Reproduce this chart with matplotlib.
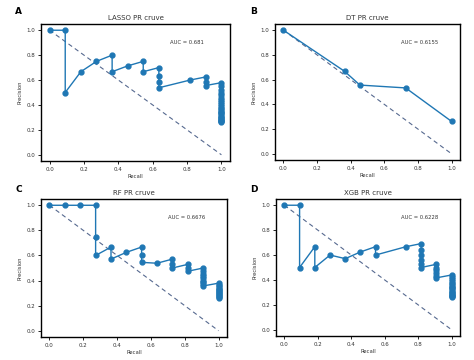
import matplotlib
matplotlib.use("Agg")
import matplotlib.pyplot as plt

# LASSO
lasso_recall = [0.0, 0.091, 0.091, 0.182, 0.273, 0.364, 0.364, 0.455, 0.545, 0.545,
                0.636, 0.636, 0.636, 0.636, 0.818, 0.909, 0.909, 0.909,
                1.0, 1.0, 1.0, 1.0, 1.0, 1.0, 1.0, 1.0, 1.0, 1.0, 1.0, 1.0, 1.0, 1.0,
                1.0, 1.0, 1.0, 1.0, 1.0, 1.0, 1.0, 1.0, 1.0, 1.0]
lasso_precision = [1.0, 1.0, 0.5, 0.667, 0.75, 0.8, 0.667, 0.714, 0.75, 0.667,
                   0.7, 0.636, 0.583, 0.538, 0.6, 0.625, 0.588, 0.556,
                   0.579, 0.55, 0.524, 0.5, 0.478, 0.458, 0.44, 0.423, 0.407, 0.393,
                   0.379, 0.367, 0.355, 0.344, 0.333, 0.324, 0.314, 0.306, 0.297,
                   0.289, 0.282, 0.275, 0.268, 0.262]

# DT
dt_recall = [0.0, 0.364, 0.455, 0.727, 1.0]
dt_precision = [1.0, 0.667, 0.556, 0.533, 0.262]

# RF
rf_recall = [0.0, 0.091, 0.182, 0.273, 0.273, 0.273, 0.364, 0.364, 0.455, 0.545,
             0.545, 0.545, 0.636, 0.727, 0.727, 0.727, 0.818, 0.818, 0.818,
             0.909, 0.909, 0.909, 0.909, 0.909, 0.909, 0.909, 0.909, 0.909,
             1.0, 1.0, 1.0, 1.0, 1.0, 1.0, 1.0, 1.0, 1.0, 1.0, 1.0, 1.0, 1.0, 1.0]
rf_precision = [1.0, 1.0, 1.0, 1.0, 0.75, 0.6, 0.667, 0.571, 0.625, 0.667,
                0.6, 0.545, 0.538, 0.571, 0.533, 0.5, 0.529, 0.5, 0.474,
                0.5, 0.476, 0.455, 0.435, 0.417, 0.4, 0.385, 0.37, 0.357,
                0.379, 0.367, 0.355, 0.344, 0.333, 0.324, 0.314, 0.306, 0.297,
                0.289, 0.282, 0.275, 0.268, 0.262]

# XGB
xgb_recall = [0.0, 0.091, 0.091, 0.182, 0.182, 0.273, 0.364, 0.455, 0.545, 0.545,
              0.727, 0.818, 0.818, 0.818, 0.818, 0.818, 0.818,
              0.909, 0.909, 0.909, 0.909, 0.909, 0.909,
              1.0, 1.0, 1.0, 1.0, 1.0, 1.0, 1.0, 1.0, 1.0, 1.0, 1.0, 1.0,
              1.0, 1.0, 1.0, 1.0, 1.0, 1.0]
xgb_precision = [1.0, 1.0, 0.5, 0.667, 0.5, 0.6, 0.571, 0.625, 0.667, 0.6,
                 0.667, 0.692, 0.643, 0.6, 0.563, 0.529, 0.5,
                 0.526, 0.5, 0.476, 0.455, 0.435, 0.417,
                 0.44, 0.423, 0.407, 0.393, 0.379, 0.367, 0.355, 0.344, 0.333,
                 0.324, 0.314, 0.306, 0.297, 0.289, 0.282, 0.275, 0.268, 0.262]

titles = ["LASSO PR cruve", "DT PR cruve", "RF PR cruve", "XGB PR cruve"]
aucs = ["AUC = 0.681", "AUC = 0.6155", "AUC = 0.6676", "AUC = 0.6228"]
letters = ["A", "B", "C", "D"]
ticks = [0.0, 0.2, 0.4, 0.6, 0.8, 1.0]

data = [(lasso_recall, lasso_precision), (dt_recall, dt_precision),
        (rf_recall, rf_precision), (xgb_recall, xgb_precision)]

W, H = 474, 360
fig = plt.figure(figsize=(W / 100, H / 100), dpi=100)
fig.patch.set_facecolor("white")

# axes boxes in pixels: left, top, right, bottom
boxes = [(41, 24, 230, 161), (275, 24, 460, 160), (41, 199, 227, 337), (276, 199, 460, 336)]
letter_pos = [(15, 12), (250, 12), (15, 189), (250, 189)]
text_col = "#333333"

for i, (r, p) in enumerate(data):
    l, t, rr, b = boxes[i]
    ax = fig.add_axes([l / W, 1 - b / H, (rr - l) / W, (b - t) / H])
    ax.plot([0, 1], [1, 0], linestyle=(0, (4, 3)), color="#56698f", linewidth=0.8)
    ax.plot(r, p, marker="o", color="#1f77b4", linewidth=1.0, markersize=3.5)
    ax.set_title(titles[i], fontsize=5, pad=3, color=text_col)
    ax.set_xlabel("Recall", fontsize=3.8, labelpad=1.5, color=text_col)
    ax.set_ylabel("Precision", fontsize=3.8, labelpad=3, color=text_col)
    ax.set_xticks(ticks)
    ax.set_yticks(ticks)
    ax.tick_params(labelsize=4, length=2, width=0.6, pad=2, labelcolor=text_col)
    for s in ax.spines.values():
        s.set_linewidth(1.0)
    ax.text(0.7, 0.9, aucs[i], fontsize=3.8, va="center", color=text_col)
    fig.text(letter_pos[i][0] / W, 1 - letter_pos[i][1] / H, letters[i],
             fontsize=6.5, fontweight="bold", va="center")

fig.savefig("out.png", dpi=100)
